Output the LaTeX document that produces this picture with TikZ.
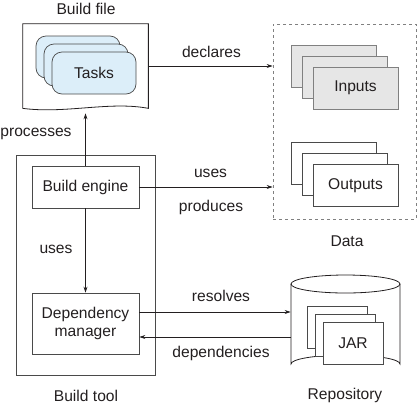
\documentclass[tikz,border=0pt]{standalone}
\usepackage{fontspec}
\setmainfont{Liberation Sans}
\usetikzlibrary{calc,arrows.meta}

\definecolor{ink}{HTML}{231F20}
\definecolor{edgegray}{HTML}{4A4A4A}
\definecolor{inputgray}{HTML}{E6E6E6}
\definecolor{taskblue}{HTML}{DCEEF9}

\tikzset{
  frame/.style={draw=edgegray, minimum width=107, minimum height=42},
  card/.style={draw=edgegray, fill=white, minimum width=85, minimum height=42},
  taskcard/.style={card, fill=taskblue, rounded corners=10pt, minimum width=84},
  inputcard/.style={card, draw=gray, fill=inputgray},
  jarcard/.style={card, minimum width=60},
  outline/.style={draw=ink, line width=0.8pt},
}

\begin{document}
\begin{tikzpicture}[x=1pt, y=-1pt, >={Stealth[length=6pt,width=4pt]},
  line width=0.7pt, font=\fontsize{15.6}{18}\selectfont, text=ink]
\useasboundingbox (0,0) rectangle (417,405);

% container coordinates
\node [minimum width=125, minimum height=84] (buildfile) at (85.5,66) {};
\node [draw=gray, dashed, minimum width=143, minimum height=195] (data) at (344.5,121.5) {};
\node [draw=edgegray, minimum width=139, minimum height=220] (buildtool) at (85.5,265) {};
\node [minimum width=109, minimum height=99] (repo) at (345.5,324.5) {};

% build file sheet with wavy bottom
\path [outline] (buildfile.south west) -- (buildfile.north west) -- (buildfile.north east)
  -- (buildfile.south east) .. controls (110,101) and (65,114) .. (buildfile.south west);

% stacked tasks
\foreach \o in {16,8}
  \node [taskcard] at (94-\o,73-\o) {};
\node [taskcard] (tasks) at (94,73) {Tasks};

% stacked inputs and outputs
\foreach \o in {22,11}
  \node [inputcard] at (355.5-\o,88-\o) {};
\node [inputcard] (inputs) at (355.5,88) {Inputs};
\foreach \o in {22,11}
  \node [card] at (355.5-\o,185.5-\o) {};
\node [card] (outputs) at (355.5,185.5) {Outputs};

% build tool parts
\node [frame] (engine) at (85.5,187) {Build engine};
\node [frame, minimum height=61, align=center] (depman) at (85.5,323.5) {Dependency\\manager};

% repository cylinder
\path [outline, fill=white] (291,284) -- (291,364) arc (180:360:54.5 and 9) -- (400,284);
\path [outline] (345.5,284) ellipse (54.5 and 9);
\foreach \o in {16,8}
  \node [jarcard] at (353-\o,343-\o) {};
\node [jarcard] (jar) at (353,343) {JAR};

% connectors
\draw [ink,->] (engine) -- ([yshift=-5pt]buildfile.south);
\draw [ink,->] (buildfile.east) -- (data.west |- buildfile.east);
\draw [ink,->] (engine.east) -- (data.west |- engine.east);
\draw [ink,->] (engine) -- (depman);
\draw [ink,->] ([yshift=11.5pt]depman.east) -- (repo.west |- 0,312);
\draw [ink,->] (repo.west |- 0,337) -- ([yshift=-13.5pt]depman.east);

% labels
\node (buildfilelabel) at (86,9) {Build file};
\node (datalabel) at (347,241) {Data};
\node (buildtoollabel) at (86,396) {Build tool};
\node (repolabel) at (345,395) {Repository};
\node (processes) at (36,134) {processes};
\node (declares) at (211.5,52) {declares};
\node (usesdata) at (210.5,173) {uses};
\node (produces) at (211,207) {produces};
\node (usesdep) at (56,249) {uses};
\node (resolves) at (221,296) {resolves};
\node (dependencies) at (221,353) {dependencies};

\end{tikzpicture}
\end{document}
